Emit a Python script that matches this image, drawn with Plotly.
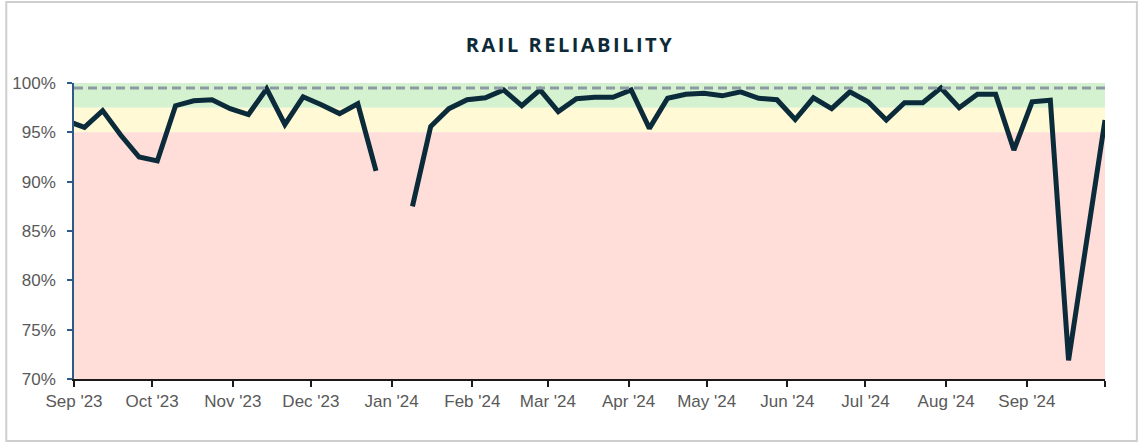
import pandas as pd
import plotly.graph_objects as go

# ---- data ----
first_week = "2023-08-29"
last_week = "2024-10-01"
# weekly reliability (%), None = no data that week
reliability = [
    96.2, 95.5, 97.2, 94.7, 92.5, 92.1, 97.7, 98.2, 98.3, 97.4,
    96.8, 99.4, 95.8, 98.6, 97.8, 96.9, 97.9, 91.1, None, 87.5,
    95.6, 97.4, 98.3, 98.5, 99.3, 97.7, 99.3, 97.1, 98.4, 98.55,
    98.55, 99.3, 95.4, 98.45, 98.85, 98.95, 98.7, 99.1, 98.45, 98.3,
    96.3, 98.5, 97.4, 99.1, 98.1, 96.25, 98.0, 98.0, 99.5, 97.5,
    98.85, 98.85, 93.2, 98.1, 98.25, 71.9, "skip", 96.25,
]
target = 99.5
band_green = (97.5, 100)
band_yellow = (95, 97.5)
band_red = (70, 95)
tick_months = ["2023-09-01", "2023-10-01", "2023-11-01", "2023-12-01", "2024-01-01",
               "2024-02-01", "2024-03-01", "2024-04-01", "2024-05-01", "2024-06-01",
               "2024-07-01", "2024-08-01", "2024-09-01", "2024-10-01"]
tick_labels = ["Sep '23", "Oct '23", "Nov '23", "Dec '23", "Jan '24", "Feb '24",
               "Mar '24", "Apr '24", "May '24", "Jun '24", "Jul '24", "Aug '24",
               "Sep '24", ""]
y_ticks = [70, 75, 80, 85, 90, 95, 100]
y_labels = ["70%", "75%", "80%", "85%", "90%", "95%", "100%"]

weeks = pd.date_range(first_week, last_week, freq="7D")
pairs = [(d, v) for d, v in zip(weeks, reliability) if v != "skip"]
xs = [p[0] for p in pairs]
ys = [p[1] for p in pairs]

fig = go.Figure()

fig.add_trace(go.Scatter(
    x=xs, y=ys, mode="lines",
    line=dict(color="#0b2b3a", width=5),
    connectgaps=False, hoverinfo="x+y", showlegend=False,
))
fig.add_trace(go.Scatter(
    x=[tick_months[0], tick_months[-1]], y=[target, target], mode="lines",
    line=dict(color="#8d9aa6", width=3, dash="9px,5px"),
    hoverinfo="skip", showlegend=False,
))

for (y0, y1), col in [(band_green, "#d4f1d0"), (band_yellow, "#fffad5"), (band_red, "#ffddd9")]:
    fig.add_shape(type="rect", xref="paper", yref="y", x0=0, x1=1, y0=y0, y1=y1,
                  fillcolor=col, line=dict(width=0), layer="below")

# outer border
fig.add_shape(type="rect", xref="paper", yref="paper",
              x0=(2 - 70) / 1035, x1=(1137 - 70) / 1035,
              y0=(379 - 441) / 296, y1=(379 - 2) / 296,
              line=dict(color="#cfcfcf", width=2), fillcolor="rgba(0,0,0,0)")

fig.update_layout(
    width=1140, height=444,
    margin=dict(l=70, r=35, t=83, b=65),
    paper_bgcolor="white", plot_bgcolor="white",
    title=dict(text="<b>RAIL RELIABILITY</b>", x=0.5, xanchor="center",
               y=1 - 45 / 444, yanchor="middle",
               font=dict(family="Open Sans", size=20, color="#0e2a38")),
    font=dict(family="Liberation Sans", size=17, color="#595959"),
)
fig.update_xaxes(
    range=[tick_months[0], tick_months[-1]],
    tickvals=tick_months, ticktext=tick_labels,
    showgrid=False, zeroline=False,
    showline=True, linecolor="#1a1a1a", linewidth=1.5,
    ticks="outside", ticklen=6, tickwidth=1.5, tickcolor="#1a1a1a",
    tickfont=dict(size=17, color="#595959"),
)
fig.update_yaxes(
    range=[70, 100], tickvals=y_ticks, ticktext=y_labels,
    showgrid=False, zeroline=False,
    showline=True, linecolor="#2e5a8a", linewidth=1.5,
    ticks="outside", ticklen=5, tickwidth=1.5, tickcolor="#2e5a8a",
    tickfont=dict(size=17, color="#595959"),
    ticklabelstandoff=8,
)

post = """
document.body.style.margin = '0';
document.body.style.padding = '0';
var t = document.querySelector('.gtitle');
if (t) { t.style.letterSpacing = '2.5px'; }
"""

fig.write_html("out.html", post_script=post, config={"displayModeBar": False})
